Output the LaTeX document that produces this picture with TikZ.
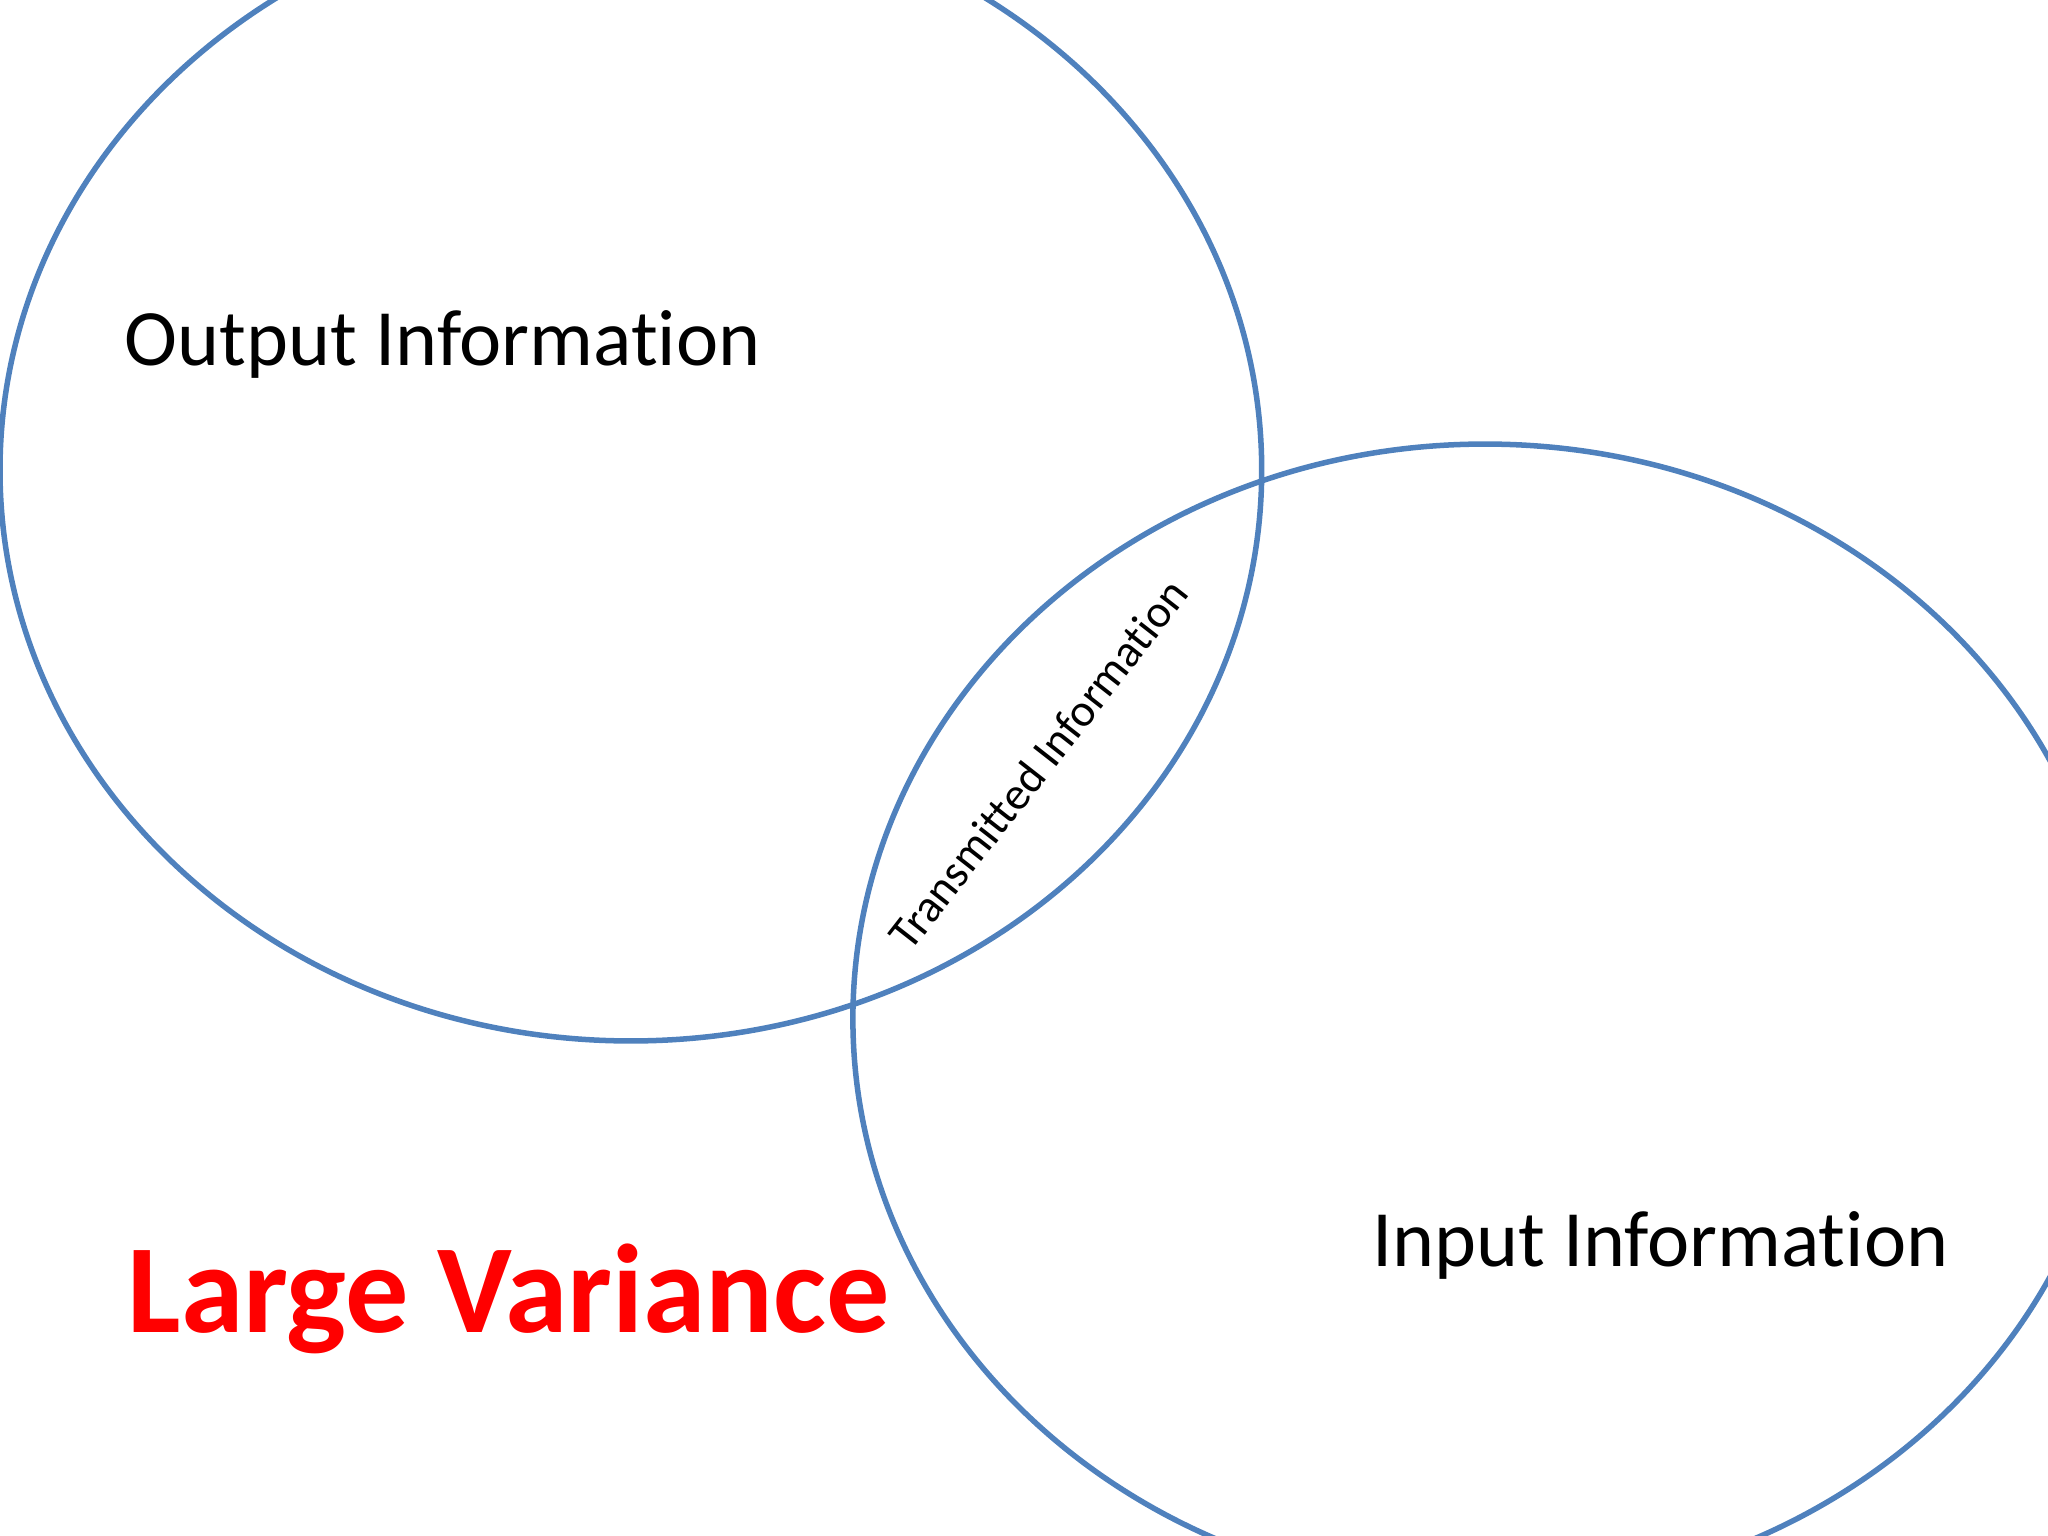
\documentclass[tikz,border=0pt]{standalone}
\usepackage{fontspec}
\setmainfont[Ligatures={NoCommon}]{Carlito}
\usetikzlibrary{positioning}
\tikzset{
    set ring/.style={
        draw=blue!45!gray!90!black,
        line width=1.2pt
    },
    set label/.style={
        anchor=base west,
        inner sep=0pt,
        font=\fontsize{17.4pt}{20pt}\selectfont
    }
}
\definecolor{ringblue}{RGB}{79,129,189}
\begin{document}
\begin{tikzpicture}[x=0.01cm,y=0.01cm]
    \useasboundingbox (0,0) rectangle (1568,1176);
    \clip (0,0) rectangle (1568,1176);
    \draw[set ring,draw=ringblue] (483,816) ellipse [x radius=483,y radius=437];
    \draw[set ring,draw=ringblue] (1137,396) ellipse [x radius=484,y radius=440];
    \node[set label] (out) at (95,896) {Output Information};
    \node[set label] (in) at (1050,206) {Input Information};
    \node[set label,font=\fontsize{27.5pt}{30pt}\selectfont\bfseries,text=red] (var) at (97,156) {Large Variance};
    \node[rotate=52,inner sep=0pt,font=\fontsize{10pt}{12pt}\selectfont] (trans) at (795,591) {Transmitted Information};
\end{tikzpicture}
\end{document}
